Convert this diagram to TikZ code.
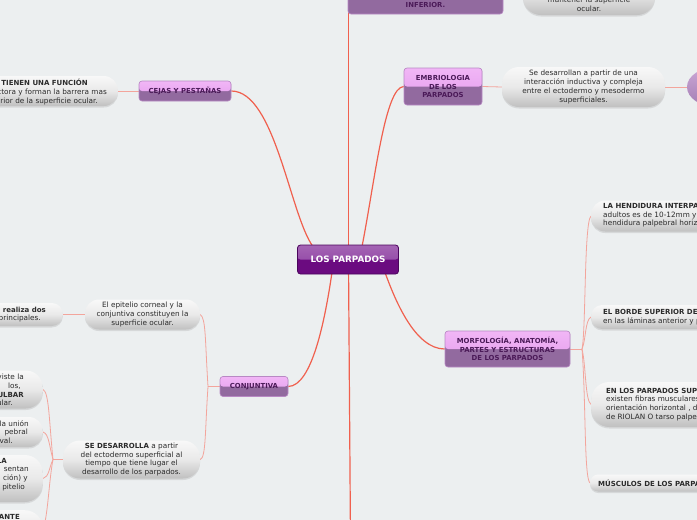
\documentclass[tikz,border=0pt]{standalone}
\usepackage{fontspec}
\setmainfont{DejaVu Sans}
\usetikzlibrary{shadows,shapes.geometric,calc}
\definecolor{bgc}{HTML}{ECEFF0}
\definecolor{mainln}{HTML}{F0604E}
\definecolor{subln}{HTML}{F3A59C}
\definecolor{cattopa}{HTML}{F1B6F6}
\definecolor{cattopb}{HTML}{E49CEC}
\definecolor{catbot}{HTML}{926A9F}
\definecolor{catborder}{HTML}{B889C4}
\definecolor{cattext}{HTML}{4B1A58}
\definecolor{ctopa}{HTML}{A464B4}
\definecolor{ctopb}{HTML}{8A3A9F}
\definecolor{cbot}{HTML}{6B0B80}
\definecolor{cborder}{HTML}{4A055C}
\definecolor{pilltop}{HTML}{F8F8F8}
\definecolor{pillmid}{HTML}{E9E9E9}
\definecolor{pillbot}{HTML}{C0C0C0}
\definecolor{txtc}{HTML}{2B2B2B}
\definecolor{purpa}{HTML}{CBA8D6}
\definecolor{purpb}{HTML}{A37DB3}
\pgfdeclarelayer{back}\pgfdeclarelayer{lines}\pgfsetlayers{back,lines,main}
\newcommand{\pillfont}{\fontsize{7.3}{8.7}\selectfont}
\newcommand{\bt}[1]{{\fontsize{7}{8.7}\selectfont\bfseries #1}}
\newcommand{\catfont}{\fontsize{6.9}{8.5}\selectfont\bfseries}
\newcommand{\centfont}{\fontsize{8.8}{10}\selectfont\bfseries}
\newcommand{\padr}[1]{\rule{#1}{0pt}}
\tikzset{
 mainline/.style={draw=mainln, line width=1.2pt},
 subline/.style={draw=subln, line width=0.8pt},
 catbox/.style={draw=catborder, line width=0.6pt, rounded corners=3pt, fill=catbot, text=cattext, font=\catfont, align=center, inner sep=0pt,
   path picture={\shade[top color=cattopa, bottom color=cattopb] (path picture bounding box.north west) rectangle (path picture bounding box.east);}},
 cattxt/.style={text=cattext, font=\catfont, inner sep=0pt},
 central/.style={draw=cborder, line width=0.8pt, rounded corners=3pt, fill=cbot, text=white, font=\centfont, inner sep=0pt,
   path picture={\shade[top color=ctopa, bottom color=ctopb] (path picture bounding box.north west) rectangle (path picture bounding box.east);}},
 pill/.style={top color=pilltop, bottom color=pillbot, middle color=pillmid, drop shadow={shadow xshift=0pt, shadow yshift=-1.5pt, opacity=0.2}, text=txtc, font=\pillfont, align=center, inner sep=0pt},
 txt/.style={text=txtc, font=\pillfont, inner sep=0pt},
}
\begin{document}
\begin{tikzpicture}[x=1pt,y=-1pt]
\useasboundingbox (0,0) rectangle (697,520);
\begin{pgfonlayer}{back}
\fill[bgc] (0,0) rectangle (697,520);
\end{pgfonlayer}

% central
\node[central, minimum width=101pt, minimum height=29pt] (lp) at (348,259.5) {LOS PARPADOS};

% categories
\node[catbox, minimum width=92pt, minimum height=20pt] (cejas) at (185,91) {CEJAS Y PESTAÑAS};
\node[catbox, minimum width=78pt, minimum height=37pt] (embrio) at (443,86.5) {EMBRIOLOGIA\\DE LOS\\PARPADOS};
\node[catbox, minimum width=125pt, minimum height=36pt] (morfo) at (507.5,349) {MORFOLOGÍA, ANATOMÍA,\\PARTES Y ESTRUCTURAS\\DE LOS PARPADOS};
\node[catbox, minimum width=68pt, minimum height=20pt] (conj) at (254,386.5) {CONJUNTIVA};
\node[catbox, minimum width=155pt, minimum height=44pt] (inf) at (425.5,-8) {};
\node[cattxt] (inftxt) at (425.5,5) {INFERIOR.};

% top right
\node[pill, minimum width=132pt, minimum height=44pt, rounded corners=18pt] (mant) at (589,-7) {};
\node[txt, align=center] (manttxt) at (589,4.5) {mantener la superficie\\ocular.};

% embriologia
\node[pill, minimum width=163pt, minimum height=40pt, rounded corners=17pt] (embdesc) at (583.5,87) {Se desarrollan a partir de una\\interacción inductiva y compleja\\entre el ectodermo y mesodermo\\superficiales.};
\node[ellipse, minimum width=60pt, minimum height=40pt, top color=purpa, bottom color=purpb, draw=none, inner sep=0pt] (purp) at (717,87) {};

% cejas
\node[pill, minimum width=170pt, minimum height=30pt, rounded corners=14pt, anchor=east] (cejdesc) at (118,91) {};
\node[txt, align=right, anchor=east] (cejtxt) at (107,92) {\bt{TIENEN UNA FUNCIÓN}\padr{19pt}\\ctora y forman la barrera mas\\terior de la superficie ocular.\padr{9pt}};

% conjuntiva
\node[pill, minimum width=115pt, minimum height=30pt, rounded corners=14pt] (epi) at (142.5,314.5) {El epitelio corneal y la\\conjuntiva constituyen la\\superficie ocular.};
\node[pill, minimum width=120pt, minimum height=23pt, rounded corners=11pt, anchor=east] (funcs) at (63,314.5) {};
\node[txt, align=right, anchor=east] (funcstxt) at (46,314.5) {\bt{realiza dos}\\principales.\padr{5pt}};
\node[pill, minimum width=137pt, minimum height=38pt, rounded corners=17pt] (sed) at (131.5,459.5) {\bt{SE DESARROLLA} a partir\\del ectodermo superficial al\\tiempo que tiene lugar el\\desarrollo de los parpados.};

\node[pill, minimum width=100pt, minimum height=38pt, rounded corners=17pt, anchor=east] (lA) at (43,389.5) {};
\node[txt, align=right, anchor=east] (lAt) at (24,390) {viste la\\los,\padr{3pt}\\\bt{ULBAR}\\ular.\padr{11pt}};
\node[pill, minimum width=100pt, minimum height=30pt, rounded corners=14pt, anchor=east] (lB) at (43,432) {};
\node[txt, align=right, anchor=east] (lBt) at (29,432) {la unión\\pebral\padr{1pt}\\val.\padr{16pt}};
\node[pill, minimum width=100pt, minimum height=47pt, rounded corners=18pt, anchor=east] (lC) at (43,478.5) {};
\node[txt, align=right, anchor=east] (lCt) at (29,474.5) {\bt{LA}\padr{22pt}\\sentan\\ción) y\padr{1pt}\\pitelio\padr{4pt}};
\node[pill, minimum width=100pt, minimum height=40pt, rounded corners=18pt, anchor=north east] (lD) at (43,510) {};
\node[txt, anchor=base east] (lDt) at (20,519.5) {\bt{ANTE}};

% morfologia
\node[pill, minimum width=140pt, minimum height=31pt, rounded corners=14pt, anchor=west] (hend) at (591,216) {};
\node[txt, align=left, anchor=west] (hendt) at (603,215.5) {\bt{LA HENDIDURA INTERPALPEBRAL}\\adultos es de 10-12mm y la\\hendidura palpebral horizontal};
\node[pill, minimum width=140pt, minimum height=24pt, rounded corners=11pt, anchor=west] (borde) at (591,317) {};
\node[txt, align=left, anchor=west] (bordet) at (603,317.5) {\bt{EL BORDE SUPERIOR DE}\\en las láminas anterior y posterior};
\node[pill, minimum width=140pt, minimum height=45pt, rounded corners=18pt, anchor=west] (enlos) at (591,404.5) {};
\node[txt, align=left, anchor=west] (enlost) at (606,404.5) {\bt{EN LOS PARPADOS SUPERIORES}\\existen fibras musculares\\orientación horizontal , de\\de RIOLAN O tarso palpebral};
\node[pill, minimum width=140pt, minimum height=17pt, rounded corners=8pt, anchor=west] (musc) at (590,483) {};
\node[txt, anchor=west] (musct) at (598,483.5) {\bt{MÚSCULOS DE LOS PARPADOS}};

\coordinate (topend) at (348.5,-20);
\coordinate (botend) at (350.5,540);
\coordinate (cj) at (208,386.5);
\coordinate (sj) at (53,459.5);
\coordinate (mj) at (582,349);

\begin{pgfonlayer}{lines}
\draw[mainline] (348.5,262) -- (topend);
\draw[mainline] (348.5,262) -- (botend);
\draw[mainline] (cejas.east) .. controls (275,91) and (290,215) .. ($(lp.north)+(-35,2)$);
\draw[mainline] (embrio.west) .. controls (385,87) and (375,180) .. ($(lp.north)+(14,2)$);
\draw[mainline] (conj.east) .. controls (312,386) and (325,320) .. ($(lp.south)+(-16,-2)$);
\draw[mainline] (morfo.west) .. controls (415,349) and (395,300) .. ($(lp.south)+(37,-2)$);

\draw[subline] (cejas.west) -- (cejdesc.east);
\draw[subline] (embrio.east) -- (embdesc.west);
\draw[subline] (embdesc.east) -- (purp.west);
\draw[subline] (epi.west) -- (funcs.east);

\draw[subline] (conj.west) -- (cj);
\draw[subline] (cj) .. controls (205,340) and (206,318) .. (epi.east);
\draw[subline] (cj) .. controls (205,430) and (206,458) .. (sed.east);

\draw[subline] (sed.west) -- (sj);
\draw[subline] (sj) .. controls (49,420) and (49,392) .. (lA.east);
\draw[subline] (sj) .. controls (49,445) and (49,434) .. (lB.east);
\draw[subline] (sj) .. controls (49,468) and (49,477) .. (lC.east);
\draw[subline] (sj) .. controls (49,480) and (48,515) .. (lD.east);

\draw[subline] (morfo.east) -- (mj);
\draw[subline] (mj) .. controls (586,330) and (584,222) .. (hend.west);
\draw[subline] (mj) .. controls (586,340) and (585,320) .. (borde.west);
\draw[subline] (mj) .. controls (586,365) and (585,400) .. (enlos.west);
\draw[subline] (mj) .. controls (586,400) and (584,478) .. (musc.west);
\end{pgfonlayer}
\end{tikzpicture}
\end{document}
